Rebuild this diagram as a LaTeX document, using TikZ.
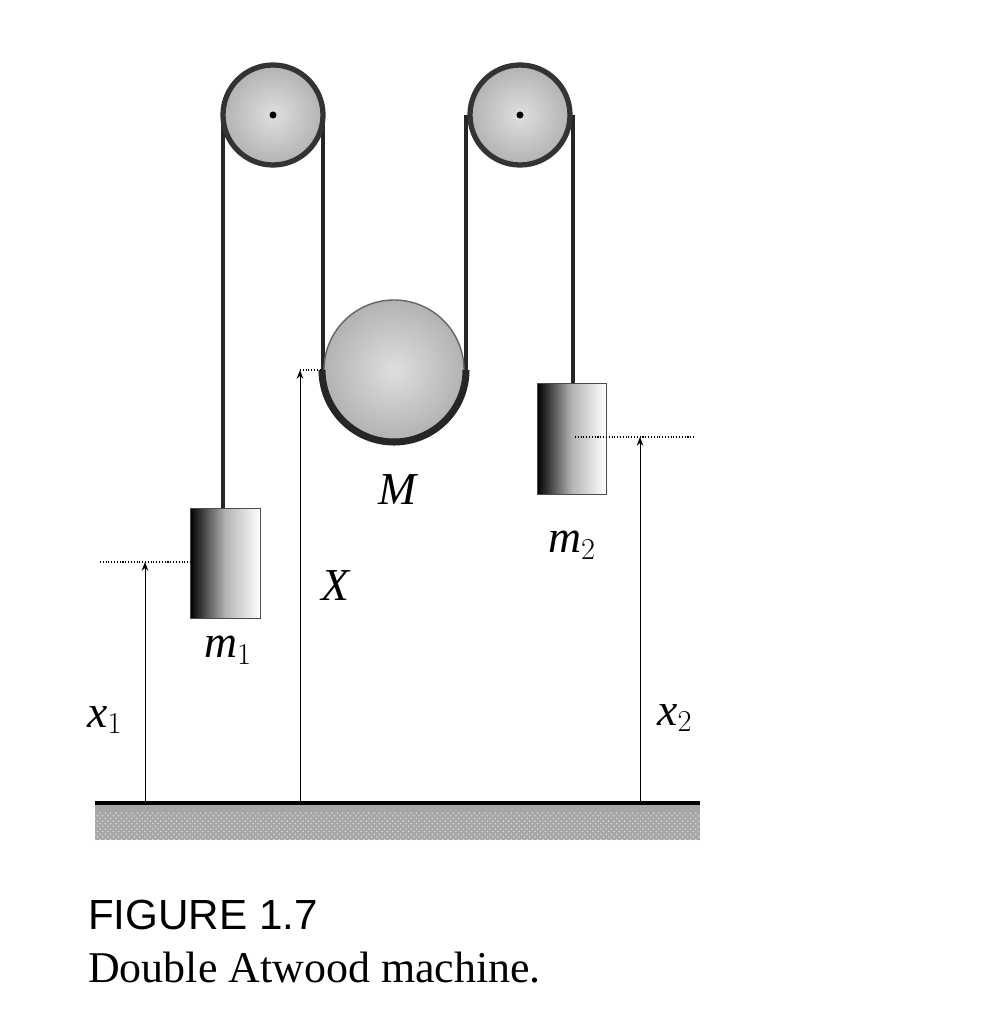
\documentclass[tikz,border=0pt]{standalone}
\usepackage{fontspec}
\setmainfont{Liberation Serif}
\setsansfont{Liberation Sans}
\usetikzlibrary{arrows.meta,patterns}
\begin{document}
\begin{tikzpicture}[x=0.02cm,y=-0.02cm,
  rope/.style={line width=2.2pt,black!85},
  pulley/.style={draw=black!80,line width=3pt,inner color=gray!25,outer color=gray!60},
  dim/.style={-{Stealth[length=5pt]},line width=0.5pt},
  guide/.style={densely dotted,line width=0.6pt},
  lbl/.style={font=\itshape\fontsize{26}{28}\selectfont}]
\useasboundingbox (0,0) rectangle (990,1024);
% ground
\fill[gray!70] (95,803) rectangle (700,840);
\fill[pattern=crosshatch dots,pattern color=gray!30] (95,812) rectangle (700,840);
\draw[line width=2pt] (95,803) -- (700,803);
% strings
\draw[rope] (223,115) -- (223,510);
\draw[rope] (323,115) -- (323,370);
\draw[rope] (466,115) -- (466,370);
\draw[rope] (573,115) -- (573,385);
% M pulley
\node[circle,pulley,draw=black!60,line width=0.8pt,minimum size=140*0.02cm,inner sep=0] (M) at (394,370) {};
\draw[rope,line width=4pt] (322,370) arc (180:0:72);
% top pulleys
\node[circle,pulley,minimum size=100*0.02cm,inner sep=0] (P1) at (273,115) {};
\node[circle,pulley,minimum size=100*0.02cm,inner sep=0] (P2) at (520,115) {};
\fill (P1) circle (3.5); \fill (P2) circle (3.5);
% masses
\shade[left color=black,right color=white,middle color=gray!60] (190,508) rectangle (260,618);
\draw[black!70] (190,508) rectangle (260,618);
\shade[left color=black,right color=white,middle color=gray!60] (537,383) rectangle (606,494);
\draw[black!70] (537,383) rectangle (606,494);
% dimensions
\draw[guide] (100,562) -- (190,562);
\draw[dim] (145,803) -- (145,562);
\draw[guide] (300,370) -- (321,370);
\draw[dim] (300,803) -- (300,370);
\draw[guide] (575,437) -- (695,437);
\draw[dim] (640,803) -- (640,437);
% labels
\node[lbl] (lM) at (398,490) {M};
\node[lbl] (lm1) at (228,650) {m$_1$};
\node[lbl] (lm2) at (572,545) {m$_2$};
\node[lbl] (lX) at (335,586) {X};
\node[lbl] (lx1) at (105,720) {x$_1$};
\node[lbl] (lx2) at (675,718) {x$_2$};
\node[anchor=west,font=\sffamily\fontsize{24}{26}\selectfont] (cap1) at (82,915) {FIGURE 1.7};
\node[anchor=west,font=\fontsize{25}{27}\selectfont] (cap2) at (82,968) {Double Atwood machine.};
\end{tikzpicture}
\end{document}
